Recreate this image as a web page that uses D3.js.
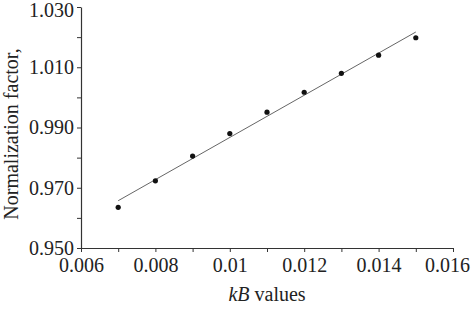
<!DOCTYPE html>
<html>
<head>
<meta charset="utf-8">
<script src="https://cdn.jsdelivr.net/npm/d3@7"></script>
<style>
  body { margin: 0; background: #fff; }
  text { font-family: "Liberation Serif", "Times New Roman", serif; fill: #222; }
</style>
</head>
<body>
<div class="chart"></div>
<script>
// measured points
var kbValues = [0.007, 0.008, 0.009, 0.010, 0.011, 0.012, 0.013, 0.014, 0.015];
var normFactor = [0.9635, 0.9723, 0.9805, 0.9880, 0.9951, 1.0017, 1.0080, 1.0140, 1.0198];

// fitted line end points
var fitX = [0.007, 0.015];
var fitY = [0.9657, 1.0217];

var xTicks = [0.006, 0.007, 0.008, 0.009, 0.010, 0.011, 0.012, 0.013, 0.014, 0.015, 0.016];
var xLabels = ["0.006", "", "0.008", "", "0.01", "", "0.012", "", "0.014", "", "0.016"];
var yTicks = [0.950, 0.960, 0.970, 0.980, 0.990, 1.000, 1.010, 1.020, 1.030];
var yLabels = ["0.950", "", "0.970", "", "0.990", "", "1.010", "", "1.030"];

var margin = { top: 7, right: 21, bottom: 61, left: 81 },
    width = 474 - margin.left - margin.right,
    height = 309 - margin.top - margin.bottom;

var svg = d3.select(".chart")
    .append("svg")
    .attr("width", 474)
    .attr("height", 309)
    .append("g")
    .attr("transform", "translate(" + margin.left + "," + margin.top + ")");

var x = d3.scaleLinear().domain([0.006, 0.016]).range([0, width]);
var y = d3.scaleLinear().domain([0.950, 1.030]).range([height, 0]);

var xAxis = d3.axisBottom(x)
    .tickValues(xTicks)
    .tickSize(4)
    .tickSizeOuter(0)
    .tickPadding(6)
    .tickFormat(function (d, i) { return xLabels[i]; });

var yAxis = d3.axisLeft(y)
    .tickValues(yTicks)
    .tickSize(4)
    .tickSizeOuter(0)
    .tickPadding(3)
    .tickFormat(function (d, i) { return yLabels[i]; });

var gx = svg.append("g")
    .attr("transform", "translate(0," + height + ")")
    .call(xAxis);
var gy = svg.append("g").call(yAxis);

[gx, gy].forEach(function (g) {
    g.select(".domain").attr("stroke", "#333").attr("stroke-width", 1.2);
    g.selectAll(".tick line").attr("stroke", "#333");
    g.selectAll(".tick text")
        .style("font-family", "Liberation Serif, serif")
        .style("font-size", "20px")
        .attr("fill", "#222");
});
gx.selectAll(".tick text").attr("dy", "0.71em");
// last x label sits a little left of its tick, as in the original
gx.selectAll(".tick text").filter(function (d) { return d === 0.016; }).attr("dx", -6);
// keep the top y label inside the page
gy.selectAll(".tick text").filter(function (d) { return d === 1.030; }).attr("dy", "0.45em");

// fit line
var fitData = fitX.map(function (d, i) { return [d, fitY[i]]; });
svg.append("path")
    .datum(fitData)
    .attr("fill", "none")
    .attr("stroke", "#666")
    .attr("stroke-width", 1)
    .attr("d", d3.line()
        .x(function (d) { return x(d[0]); })
        .y(function (d) { return y(d[1]); }));

svg.selectAll("circle.pt")
    .data(kbValues)
    .enter()
    .append("circle")
    .attr("class", "pt")
    .attr("cx", function (d) { return x(d); })
    .attr("cy", function (d, i) { return y(normFactor[i]); })
    .attr("r", 2.6)
    .attr("fill", "#111");

// axis titles
var xt = svg.append("text")
    .attr("x", width / 2)
    .attr("y", height + 53)
    .style("text-anchor", "middle")
    .style("font-size", "20px");
xt.append("tspan").style("font-style", "italic").text("kB");
xt.append("tspan").text(" values");

svg.append("text")
    .attr("transform", "rotate(-90)")
    .attr("x", -127)
    .attr("y", 18 - margin.left)
    .style("text-anchor", "middle")
    .style("font-size", "20px")
    .text("Normalization factor,");
</script>
</body>
</html>
